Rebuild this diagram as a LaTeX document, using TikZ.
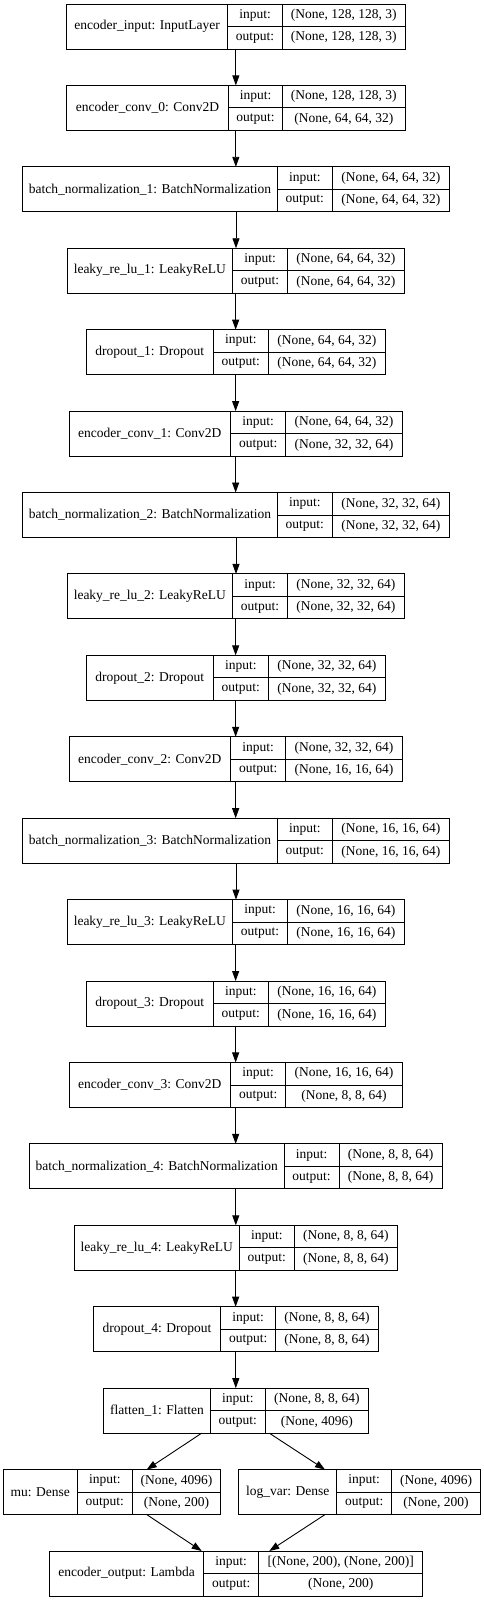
\documentclass[tikz,border=0pt]{standalone}
\usepackage{fontspec}
\setmainfont{Liberation Serif}
\usetikzlibrary{arrows.meta}
\tikzset{
  box/.style={draw, line width=0.9pt, anchor=north west, minimum height=45pt, inner sep=0pt, outer sep=0pt},
  cell/.style={draw, line width=0.9pt, anchor=north west, minimum height=22.5pt, inner sep=0pt, outer sep=0pt, font=\fontsize{13.5pt}{15pt}\selectfont},
  arr/.style={line width=0.9pt, -{Triangle[length=10pt,width=7pt]}}
}
\newcommand{\klayer}[9]{%
  \pgfmathsetmacro\kt{-(4+81.42*#2)}%
  \pgfmathsetmacro\km{\kt-22.5}%
  \node[box, minimum width={(#6-#3)*1pt}] (#1) at (#3pt,\kt pt) {};
  \node[cell, minimum width={(#4-#3)*1pt}, minimum height=45pt] (#1-n) at (#3pt,\kt pt) {#7};
  \node[cell, minimum width={(#5-#4)*1pt}] (#1-il) at (#4pt,\kt pt) {input:};
  \node[cell, minimum width={(#6-#5)*1pt}] (#1-iv) at (#5pt,\kt pt) {#8};
  \node[cell, minimum width={(#5-#4)*1pt}] (#1-ol) at (#4pt,\km pt) {output:};
  \node[cell, minimum width={(#6-#5)*1pt}] (#1-ov) at (#5pt,\km pt) {#9};
}
\begin{document}
\begin{tikzpicture}
\useasboundingbox (0,0) rectangle (484pt,-1600pt);
\fill[white] (0,0) rectangle (484pt,-1600pt);
\klayer{r0}{0}{66.7}{227.7}{282.3}{405}{encoder\_input: InputLayer}{(None, 128, 128, 3)}{(None, 128, 128, 3)}
\klayer{r1}{1}{66.7}{228.3}{282.7}{405}{encoder\_conv\_0: Conv2D}{(None, 128, 128, 3)}{(None, 64, 64, 32)}
\klayer{r2}{2}{22.7}{277.3}{332.3}{449.3}{batch\_normalization\_1: BatchNormalization}{(None, 64, 64, 32)}{(None, 64, 64, 32)}
\klayer{r3}{3}{67}{232.7}{287.3}{404.3}{leaky\_re\_lu\_1: LeakyReLU}{(None, 64, 64, 32)}{(None, 64, 64, 32)}
\klayer{r4}{4}{86}{213.3}{268.3}{385.3}{dropout\_1: Dropout}{(None, 64, 64, 32)}{(None, 64, 64, 32)}
\klayer{r5}{5}{69}{230.7}{285.7}{402.3}{encoder\_conv\_1: Conv2D}{(None, 64, 64, 32)}{(None, 32, 32, 64)}
\klayer{r6}{6}{22.7}{277.3}{332.3}{449.3}{batch\_normalization\_2: BatchNormalization}{(None, 32, 32, 64)}{(None, 32, 32, 64)}
\klayer{r7}{7}{67}{232.7}{287.3}{404.3}{leaky\_re\_lu\_2: LeakyReLU}{(None, 32, 32, 64)}{(None, 32, 32, 64)}
\klayer{r8}{8}{86}{213.3}{268.3}{385.3}{dropout\_2: Dropout}{(None, 32, 32, 64)}{(None, 32, 32, 64)}
\klayer{r9}{9}{69}{230.7}{285.7}{402.3}{encoder\_conv\_2: Conv2D}{(None, 32, 32, 64)}{(None, 16, 16, 64)}
\klayer{r10}{10}{22.7}{277.3}{332.3}{449.3}{batch\_normalization\_3: BatchNormalization}{(None, 16, 16, 64)}{(None, 16, 16, 64)}
\klayer{r11}{11}{67}{232.7}{287.3}{404.3}{leaky\_re\_lu\_3: LeakyReLU}{(None, 16, 16, 64)}{(None, 16, 16, 64)}
\klayer{r12}{12}{86}{213.3}{268.3}{385.3}{dropout\_3: Dropout}{(None, 16, 16, 64)}{(None, 16, 16, 64)}
\klayer{r13}{13}{69}{230.7}{285.7}{402.3}{encoder\_conv\_3: Conv2D}{(None, 16, 16, 64)}{(None, 8, 8, 64)}
\klayer{r14}{14}{29.3}{284}{339}{442.3}{batch\_normalization\_4: BatchNormalization}{(None, 8, 8, 64)}{(None, 8, 8, 64)}
\klayer{r15}{15}{74}{239.3}{294.3}{397.3}{leaky\_re\_lu\_4: LeakyReLU}{(None, 8, 8, 64)}{(None, 8, 8, 64)}
\klayer{r16}{16}{93.3}{220.7}{275.7}{378.3}{dropout\_4: Dropout}{(None, 8, 8, 64)}{(None, 8, 8, 64)}
\klayer{r17}{17}{103.7}{210.3}{265.3}{368.3}{flatten\_1: Flatten}{(None, 8, 8, 64)}{(None, 4096)}
\klayer{mu}{18}{3.3}{77.3}{132.3}{220.7}{mu: Dense}{(None, 4096)}{(None, 200)}
\klayer{lv}{18}{238.7}{336.7}{391.7}{480.3}{log\_var: Dense}{(None, 4096)}{(None, 200)}
\klayer{eo}{19}{49.3}{203.7}{258.7}{422.7}{encoder\_output: Lambda}{[(None, 200), (None, 200)]}{(None, 200)}
\foreach \a/\b in {r0/r1,r1/r2,r2/r3,r3/r4,r4/r5,r5/r6,r6/r7,r7/r8,r8/r9,r9/r10,r10/r11,r11/r12,r12/r13,r13/r14,r14/r15,r15/r16,r16/r17}
  \draw[arr] (\a.south) -- (\a.south |- \b.north);
\draw[arr] ([xshift=-34.3pt]r17.south) -- ([xshift=34.7pt]mu.north);
\draw[arr] ([xshift=33.3pt]r17.south) -- ([xshift=-34.5pt]lv.north);
\draw[arr] ([xshift=34.7pt]mu.south) -- ([xshift=-34.3pt]eo.north);
\draw[arr] ([xshift=-34.5pt]lv.south) -- ([xshift=33.3pt]eo.north);
\end{tikzpicture}
\end{document}
